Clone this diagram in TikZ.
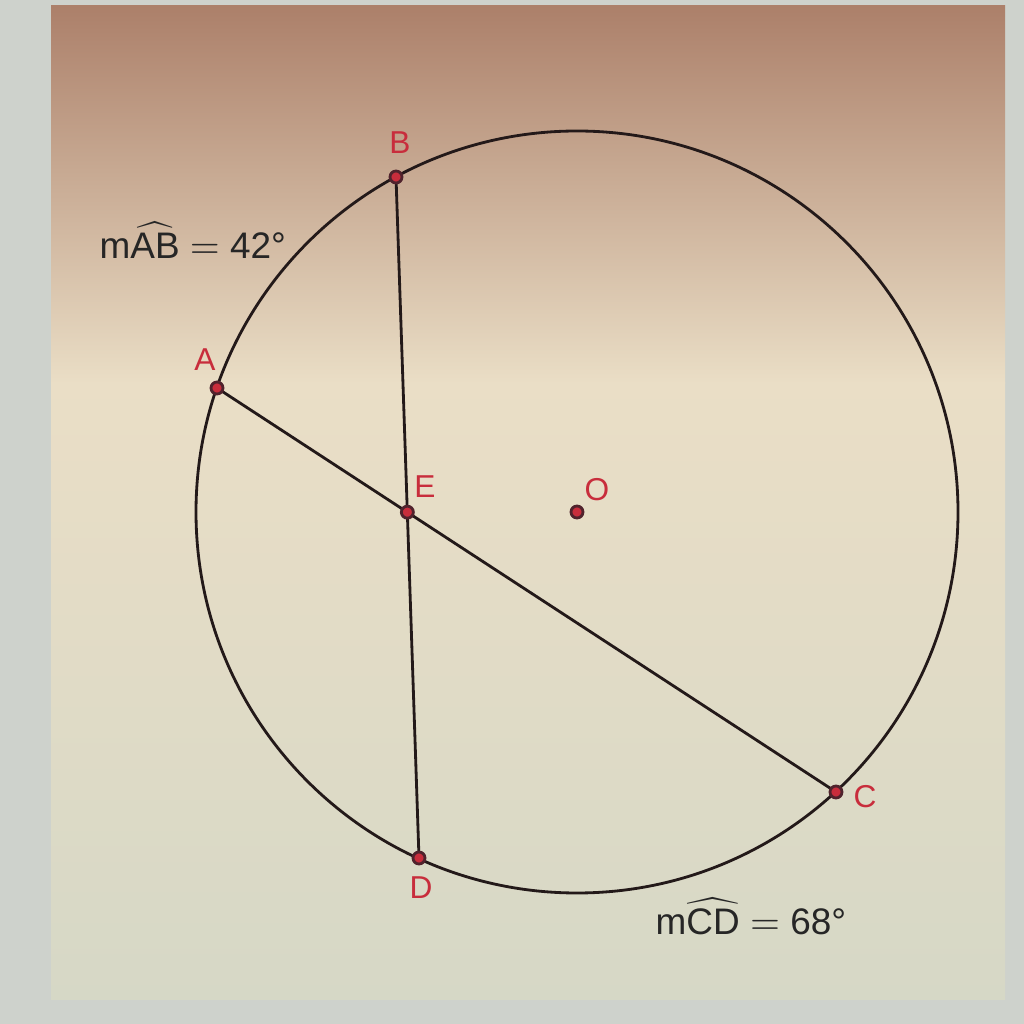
\documentclass[tikz,border=0pt]{standalone}
\usepackage{fontspec}
\setmainfont{Liberation Sans}
\definecolor{ptred}{RGB}{200,45,60}
\definecolor{ptedge}{RGB}{80,35,45}
\definecolor{linecol}{RGB}{35,25,25}
\definecolor{screentop}{RGB}{172,128,106}
\definecolor{screenmid}{RGB}{234,222,198}
\definecolor{screenbot}{RGB}{214,216,198}
\definecolor{framecol}{RGB}{206,210,204}
\tikzset{
 chord/.style={draw=linecol,line width=0.8pt},
 dot/.style={fill=ptred,draw=ptedge,line width=0.8pt},
 lbl/.style={text=ptred,font=\fontsize{9}{10}\selectfont},
 arcl/.style={text=black!85,font=\fontsize{10.5}{11}\selectfont,anchor=base west,inner sep=0pt}
}
\begin{document}
\begin{tikzpicture}[x=0.01cm,y=0.01cm]
 \useasboundingbox (0,0) rectangle (1024,1024);
 \fill[framecol] (0,0) rectangle (1024,1024);
 % screen background
 \shade[top color=screentop,bottom color=screenmid] (51,640) rectangle (1005,1018);
 \shade[top color=screenmid,bottom color=screenbot] (51,24) rectangle (1005,641);
 % circle and points
 \coordinate (O) at (577,512);
 \coordinate (B) at (396,847);
 \coordinate (A) at (217,636);
 \coordinate (D) at (419,166);
 \coordinate (C) at (836,232);
 \coordinate (E) at (intersection of A--C and B--D);
 \draw[chord] (O) circle (381);
 \draw[chord] (A)--(C);
 \draw[chord] (B)--(D);
 \filldraw[dot] (A) circle (6);
 \filldraw[dot] (B) circle (6);
 \filldraw[dot] (C) circle (6);
 \filldraw[dot] (D) circle (6);
 \filldraw[dot] (E) circle (6);
 \filldraw[dot] (O) circle (6);
 \node[lbl] (lB) at (400,881) {B};
 \node[lbl] (lA) at (205,664) {A};
 \node[lbl] (lE) at (425,537) {E};
 \node[lbl] (lO) at (597,534) {O};
 \node[lbl] (lD) at (421,136) {D};
 \node[lbl] (lC) at (865,227) {C};
 \node[arcl] (mAB) at (99,765) {m$\widehat{\mbox{AB}}$ $=$ 42°};
 \node[arcl] (mCD) at (655,89) {m$\widehat{\mbox{CD}}$ $=$ 68°};
\end{tikzpicture}
\end{document}
